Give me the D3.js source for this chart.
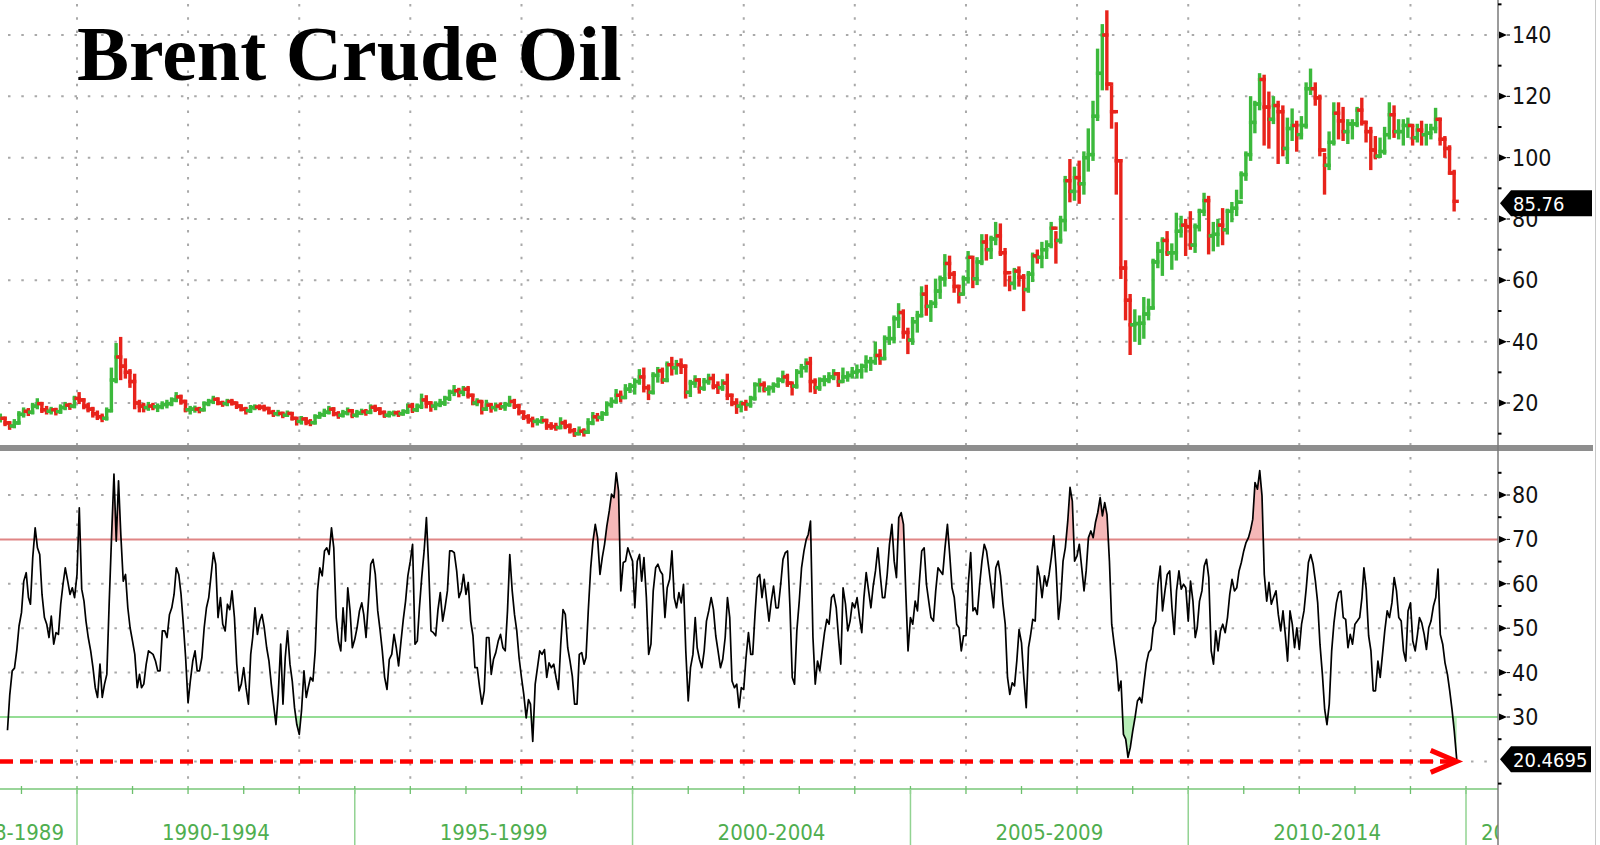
<!DOCTYPE html>
<html><head><meta charset="utf-8">
<script src="https://cdn.jsdelivr.net/npm/d3@7"></script>
<style>html,body{margin:0;padding:0;background:#fff;overflow:hidden}svg{display:block}</style>
</head><body><svg id="c" width="1600" height="845"></svg>
<script>
// ---------------- DATA ----------------
const chartTitle = "Brent Crude Oil";
// Monthly Brent bars, Aug 1988 .. Oct 2014
const priceStart = {year: 1988, month: 7};
const priceClose = [
15.0,13.5,12.5,13.5,16.3,
17.3,17.0,19.0,19.8,17.8,17.3,17.8,17.2,18.5,19.3,19.0,21.5,
21.0,19.0,18.0,16.5,15.5,15.0,17.5,27.5,35.0,32.0,30.0,27.0,
20.0,19.0,18.5,19.0,18.8,18.8,19.5,19.8,21.0,22.0,20.5,17.8,
18.0,18.0,17.8,19.8,20.5,21.2,20.0,19.8,20.5,20.0,19.0,18.0,
17.5,18.5,18.7,18.6,18.2,17.0,16.5,16.6,16.0,16.6,15.0,14.0,
14.8,13.8,13.6,15.5,16.2,17.0,18.0,16.5,16.0,16.8,17.5,16.0,
16.7,17.2,17.0,18.6,18.0,16.9,16.0,16.6,16.8,16.5,17.2,19.0,
17.8,18.9,21.0,20.0,19.0,19.5,20.0,21.5,23.5,24.0,23.5,24.5,
22.5,20.0,20.5,18.0,19.3,18.5,19.0,18.8,19.5,20.5,19.0,17.0,
15.5,14.5,14.0,14.0,14.3,12.5,12.3,12.0,13.5,12.5,11.0,10.0,
10.8,10.5,13.5,15.5,15.3,16.5,19.5,20.5,22.5,21.8,24.5,25.5,
27.0,28.5,25.0,23.5,29.0,30.5,27.5,32.5,31.5,32.5,32.0,23.5,
26.5,27.5,24.8,27.0,28.0,25.5,25.0,26.5,22.5,20.0,19.0,19.8,
19.5,21.5,26.0,26.0,24.5,25.0,25.8,27.5,28.5,26.5,25.5,30.0,
31.5,33.0,27.0,25.0,27.5,27.5,28.5,29.5,27.0,28.5,29.0,30.0,
30.5,32.0,33.5,33.5,35.5,34.5,41.0,41.0,47.5,49.5,43.0,40.5,
46.5,48.5,55.5,51.5,52.5,56.5,60.5,65.5,62.0,58.0,55.5,60.5,
67.5,60.5,66.0,72.5,70.0,73.5,74.5,69.0,62.5,59.0,63.0,61.0,
57.0,62.0,68.0,67.5,70.0,71.5,77.0,73.0,79.5,92.5,89.0,93.5,
91.5,100.0,101.0,113.5,127.5,140.0,124.0,115.0,99.0,64.0,53.5,45.5,
45.9,46.0,49.0,51.0,66.0,69.5,73.0,69.0,69.0,76.0,78.0,77.5,
71.5,77.5,82.5,86.0,74.5,75.0,78.0,76.5,82.5,83.5,85.5,94.5,
101.0,111.5,117.5,125.5,116.5,112.5,117.0,115.0,103.0,109.5,110.5,107.5,
110.5,122.5,122.5,119.5,102.5,97.5,105.0,114.5,112.0,108.5,111.0,111.0,
115.5,111.5,108.5,102.5,100.5,102.0,107.5,114.0,108.5,108.5,110.5,110.5,
106.5,109.0,107.5,108.0,109.5,112.5,106.0,103.0,95.0,85.76
];
const priceHigh = [
16.0,15.0,13.5,14.2,16.8,
18.0,17.8,19.5,21.0,19.8,18.5,18.2,17.9,19.0,19.8,19.5,21.8,
23.0,21.0,19.5,18.2,17.0,16.0,18.0,31.0,39.0,41.0,34.0,30.5,
29.0,20.5,19.5,19.8,19.5,19.3,20.0,20.5,21.3,23.0,22.2,20.5,
18.5,18.6,18.2,20.0,20.8,21.8,21.3,20.2,20.8,20.8,19.8,19.0,
18.2,18.8,19.0,19.0,18.9,18.2,17.2,17.2,16.6,17.0,16.5,14.8,
15.2,14.8,14.2,15.8,16.6,17.6,18.5,18.1,16.8,17.2,18.0,17.3,
17.2,17.6,17.5,19.0,18.9,18.1,17.0,16.9,17.0,17.0,17.4,19.3,
19.5,19.3,22.5,22.0,20.0,20.0,20.8,21.8,23.8,25.3,24.4,25.0,
25.0,22.5,21.0,20.0,20.5,19.5,19.6,19.6,19.8,21.8,20.8,19.2,
17.0,15.8,15.0,14.5,15.2,14.3,13.2,13.0,14.8,14.0,12.8,11.3,
11.8,11.2,14.5,16.5,16.2,16.8,20.0,21.3,24.0,23.5,25.6,26.0,
27.5,30.5,31.0,25.5,29.5,31.2,31.0,33.0,34.5,33.5,34.0,32.0,
27.0,28.5,27.5,27.6,29.0,29.0,26.5,27.2,29.0,22.5,21.0,20.2,
20.5,21.8,26.2,27.5,26.5,25.2,26.2,27.8,30.0,29.0,26.0,30.5,
32.2,34.0,34.5,27.5,27.8,28.5,29.5,30.5,29.5,31.0,29.8,31.2,
32.0,32.3,35.0,34.5,39.5,37.0,41.5,44.5,48.0,52.0,50.0,44.0,
47.5,49.5,57.5,58.0,53.0,60.0,61.0,68.0,67.5,62.5,58.0,61.0,
69.0,66.5,67.0,74.5,74.5,74.0,78.5,78.0,70.0,61.0,63.5,64.0,
61.5,62.5,68.5,69.5,72.0,72.5,78.5,75.5,80.5,93.5,99.0,96.5,
98.5,101.5,109.0,118.0,135.0,143.0,147.5,123.0,111.0,99.0,66.0,55.0,
50.0,48.0,54.0,53.5,66.5,72.0,73.5,75.5,71.5,81.5,80.5,79.5,
82.0,78.0,82.8,88.0,87.0,78.5,79.5,83.0,82.8,85.0,89.0,95.0,
101.5,119.5,118.0,127.0,126.5,121.0,119.5,118.0,116.5,112.5,115.5,111.5,
113.0,124.0,128.5,124.0,120.0,101.0,108.0,117.5,117.5,116.0,112.0,112.0,
116.0,119.0,111.5,109.5,106.5,106.0,109.5,117.5,116.5,112.0,112.0,112.5,
110.0,110.5,111.5,110.5,110.5,115.7,112.5,106.5,103.5,95.5
];
const priceLow = [
14.2,13.0,11.8,12.3,13.5,
15.8,16.3,16.8,18.5,17.3,16.8,16.8,16.5,17.0,18.2,18.3,18.8,
20.2,18.5,17.5,15.8,15.0,14.3,14.8,17.5,27.0,28.0,28.5,25.5,
18.5,17.5,17.5,18.0,18.2,17.6,18.5,18.8,19.5,20.8,20.0,17.5,
16.8,17.4,17.2,17.8,19.5,20.2,19.8,19.3,19.5,19.7,18.6,17.8,
16.8,17.3,18.2,18.2,17.8,16.8,16.0,16.2,15.6,16.0,14.8,13.2,
13.5,13.3,13.0,13.5,15.4,16.0,16.8,16.2,15.4,15.8,16.5,15.6,
15.8,16.6,16.4,16.9,17.6,16.6,15.7,15.8,16.2,16.0,16.4,17.0,
17.3,17.6,18.6,18.8,17.7,18.2,19.2,19.6,21.2,22.8,22.4,22.8,
22.0,19.8,19.5,16.8,18.0,17.4,17.8,18.3,18.0,19.3,18.6,16.5,
15.0,13.8,12.6,13.2,13.8,11.8,11.8,11.5,12.0,12.0,10.6,9.5,
10.0,9.6,10.5,13.3,14.5,14.7,16.4,19.0,20.3,20.8,21.8,23.8,
23.3,26.5,24.0,21.5,23.3,27.2,26.8,27.3,29.5,29.8,30.0,22.0,
22.5,25.5,23.6,24.5,26.5,25.0,23.5,24.5,21.5,19.5,17.0,17.5,
18.0,19.0,21.3,24.0,24.0,23.0,23.9,25.5,27.0,25.8,23.0,25.2,
28.8,30.5,24.0,23.5,24.5,26.0,27.0,28.0,25.8,27.5,27.5,28.5,
28.5,28.5,30.5,31.0,33.0,33.0,34.5,39.5,40.0,45.0,41.5,36.5,
39.5,43.5,48.5,49.0,47.0,51.5,54.5,58.5,61.0,56.5,53.0,56.0,
59.5,58.0,59.0,65.5,67.0,67.5,72.0,68.5,58.5,57.0,57.5,58.5,
50.5,56.5,60.0,66.0,64.5,67.5,71.0,66.0,72.5,76.5,86.0,86.5,
85.5,88.5,96.0,99.5,112.5,122.5,122.5,110.0,88.5,61.0,47.5,36.2,
40.5,39.5,41.5,47.5,51.0,64.5,62.0,68.5,64.0,67.0,74.5,68.5,
70.5,69.5,76.5,81.5,69.0,70.0,71.5,72.0,75.5,79.5,81.5,87.0,
93.0,99.5,108.5,116.0,104.5,103.5,111.5,98.5,101.0,98.5,106.0,102.5,
106.5,110.0,121.0,117.5,101.0,88.5,96.5,104.5,106.5,106.0,105.0,106.5,
110.5,111.0,105.5,96.5,100.0,100.5,101.5,106.5,107.0,106.5,104.5,107.0,
104.5,105.5,104.5,104.5,106.5,108.5,104.5,100.5,95.0,83.0
];
// RSI, two readings per month (1st and 16th), Oct 1988 .. end Oct 2014
const rsiStart = {year: 1988, month: 9};
const rsiValues = [
27,35,40.4,41,45,50.5,53.5,60.6,62.5,56.9,
55.4,65.9,72.6,68.1,66.6,57.6,52.4,50.9,47.9,52.7,
46.4,49,48.6,55.4,59.9,63.6,60.6,57.6,59.1,56.9,
62.1,77.1,58.8,56.1,51.6,47.9,44.9,41.1,36.6,34.4,
41.9,34.4,37.4,39.6,56.1,70.4,84.7,69.6,83.2,71.1,
60.6,62.1,54.6,50.1,47.1,44.1,36.6,39.6,36.6,37.4,
41.9,44.9,44.5,44.1,42.6,40.4,40.4,49.4,49.4,47.9,
53.1,54.6,57.6,63.6,62.1,57.6,50.9,43.4,33.2,38.1,
42.6,44.9,40.4,40.4,43.4,50.1,54.6,56.9,62.1,67,
64.4,52.4,56.9,50.9,49.4,55.4,54.2,58.4,52.4,41.9,
35.9,37.4,41.1,36.6,32.9,44.1,47.9,54.6,48.6,51.6,
53.1,50.1,45.6,42.6,37.4,32.9,28.3,35.1,46.4,32.9,
43.4,49.4,41.9,38.1,32.1,28.3,26.1,31.4,40.4,34.4,
36.6,38.9,38.1,44.9,58.4,63.6,61.8,67.4,68.1,66.6,
72.6,68.1,52.4,47.1,44.9,54.6,47.1,59.1,53.9,45.6,
47.5,50.1,53.9,55.7,53.1,47.9,56.1,64.4,65.5,62.1,
53.9,
49.7,44.9,39,36.2,43,44.1,48.6,45.6,41.5,47.1,
52,56.1,61.8,65.1,68.9,46.4,47.1,54.6,61.4,67.4,
74.9,63.6,49.4,49,48.3,54.2,58,51.6,54.6,58.4,
67.4,67.4,67,62.9,56.9,58.4,62.1,57.6,60.3,51.6,
48.3,41.1,41.1,36.6,32.9,35.9,47.9,47.9,39.6,43,
44.5,47.1,48.6,45.6,44.9,53.9,66.6,58.4,53.1,49.4,
43.4,38.9,35.1,29.8,33.9,32.9,24.5,37.4,41.1,44.9,
44.1,45.2,38.9,42.2,41.1,41.9,38.9,36.2,46.4,54.2,
53.1,45.6,42.6,39.2,32.9,32.9,44.1,44.5,41.9,43.4,
53.9,63.6,69.6,73.4,70.4,62.1,65.9,68.9,73,76.4,
80.2,79.4,85,80.9,58.4,64.8,65.1,68.1,66.6,65.1,
54.6,65.1,66.6,60.6,65.9,56.9,44.1,46.4,58.4,63.6,
64.4,62.9,62.1,52.4,59.1,61,67.4,56.9,54.6,58,
55.7,59.9,44.9,33.6,41.1,44.1,52.4,45.6,43,41.1,
44.9,51.6,53.9,56.9,54.2,48.3,44.9,41.1,43,47.9,
56.9,52.4,38.1,36.6,37.4,32.1,36.6,36.2,43.4,49,
44.1,44.1,53.1,61.4,62.1,56.9,61,56.1,51.6,56.1,
59.5,54.6,54.6,59.9,65.5,67,67.4,54.6,38.9,37.4,
49.4,56.1,63.6,67.4,70,71.1,74.1,47.9,37.4,42.6,
40.4,44.9,49,52,50.9,56.9,57.6,54.6,47.9,41.9,
59.1,55.4,49.4,51.6,55.7,54.6,56.9,52.4,49,56.9,
62.5,58.4,54.6,59.5,62.9,68.1,62.1,56.9,56.9,62.1,
68.9,73.4,65.1,61.4,74.9,76,73.4,58.4,44.9,52.4,
50.9,56.1,53.9,60.6,67.4,68.1,59.9,56.1,52.4,51.6,
58.4,63.6,62.9,62.1,68.1,73.4,66.6,59.1,56.9,50.9,
50.1,44.9,48.3,48.3,59.9,67,53.9,54.6,53.1,59.9,
65.1,68.9,67.4,63.3,59.1,54.6,63.6,65.1,61.8,55.4,
50.9,38.9,35.1,37.7,37,42.6,49.7,46.7,38.9,32.1,
45.6,48.3,52,51.6,64,61.4,56.9,61.8,59.5,62.1,
65.9,70.8,63.6,52,56.5,65.1,68.1,74.1,81.7,78.6,
65.1,66.3,68.9,63.6,58.4,62.9,70.4,71.9,70.4,73.8,
76,79.4,75.3,78.3,75.6,65.1,50.9,46.4,42.6,35.9,
38.1,26.1,25,20.9,23.1,26.8,29.8,33.6,34.4,33.2,
37.7,42.2,44.5,45.2,50.1,51.6,59.9,64,53.9,58.4,
62.1,62.9,54.6,48.6,58.4,62.9,58.8,59.9,59.1,51.6,
60.6,56.1,47.9,50.1,56.1,58.4,64,65.5,61.4,44.9,
41.9,49.4,44.9,49.4,50.9,49,52.4,57.6,61,58.4,
59.1,62.9,64.8,67.4,69.3,70.4,72.3,74.5,82.8,81.3,
85.5,79.8,62.1,56.1,60.3,55.4,56.9,58.4,53.1,49.4,
53.9,48.6,42.6,53.9,50.9,45.6,50.1,45.2,50.9,53.9,
59.1,64.8,66.6,64.4,60.6,55.7,46.4,39.6,31.7,28.3,
32.9,44.9,51.2,55.7,58,58.4,52.4,52,45.6,48.6,
46.4,50.9,51.6,52.4,56.9,63.6,58.8,48.3,44.9,35.9,
35.9,42.6,38.9,44.1,49.4,53.9,52.4,55.7,61.4,58.4,
52.4,51.6,44.9,42.6,53.9,55.7,47.1,44.9,48.6,52.4,
51.2,48.6,45.2,50.1,51.6,55,56.9,63.3,48.6,46.4,
42.2,39.6,35.9,31.7,26.8,20.4695
];
const lastPriceLabel = "85.76";
const lastRsiLabel = "20.4695";
const priceTicks = [20, 40, 60, 80, 100, 120, 140];
const priceMinorTicks = [10, 30, 50, 70, 90, 110, 130, 150];
const rsiTicks = [30, 40, 50, 60, 70, 80];
const rsiMinorTicks = [15, 25, 35, 45, 55, 65, 75, 85];
const rsiGridLevels = [20, 40, 50, 60, 80];
const rsiOverbought = 70, rsiOversold = 30;
const rsiLowMark = 20;
const periodLabels = ["1988-1989", "1990-1994", "1995-1999", "2000-2004", "2005-2009", "2010-2014", "2015-2019"];
const periodStarts = [1985, 1990, 1995, 2000, 2005, 2010, 2015];

// ---------------- LAYOUT ----------------
const svg = d3.select("#c");
const axisX = 1498;
const topY0 = 0, topY1 = 445, sepY1 = 451, botY1 = 789;
const x = d3.scaleTime().domain([new Date(1990, 0, 1), new Date(2015, 0, 1)]).range([77, 1466]);
const yP = d3.scaleLinear().domain([20, 140]).range([403, 35]);
const yR = d3.scaleLinear().domain([30, 80]).range([717, 495]);
const narrow = "'Liberation Sans Narrow','DejaVu Sans Condensed','Arial Narrow',sans-serif";
const GREEN = "#3cb93c", RED = "#e8231b", GRID = "#a9a9a9";

const defs = svg.append("defs");
defs.append("clipPath").attr("id", "cpTop").append("rect").attr("x", 0).attr("y", topY0).attr("width", axisX).attr("height", topY1 - topY0);
defs.append("clipPath").attr("id", "cpBot").append("rect").attr("x", 0).attr("y", sepY1).attr("width", axisX).attr("height", botY1 - sepY1);
defs.append("clipPath").attr("id", "cpOB").append("rect").attr("x", 0).attr("y", sepY1).attr("width", axisX).attr("height", yR(rsiOverbought) - sepY1);
defs.append("clipPath").attr("id", "cpOS").append("rect").attr("x", 0).attr("y", yR(rsiOversold)).attr("width", axisX).attr("height", botY1 - yR(rsiOversold));
defs.append("clipPath").attr("id", "cpX").append("rect").attr("x", 0).attr("y", botY1).attr("width", axisX).attr("height", 845 - botY1);

svg.append("rect").attr("width", 1600).attr("height", 845).attr("fill", "#fff");

// grid
const gridYears = d3.range(1990, 2015, 2).map(y => new Date(y, 0, 1));
const g = svg.append("g").attr("stroke", GRID).attr("stroke-width", 2).attr("stroke-dasharray", "2.5,10.8");
gridYears.forEach(d => {
  g.append("line").attr("x1", x(d)).attr("x2", x(d)).attr("y1", 4).attr("y2", topY1);
  g.append("line").attr("x1", x(d)).attr("x2", x(d)).attr("y1", sepY1 + 6).attr("y2", botY1);
});
priceTicks.forEach(v => g.append("line").attr("x1", 8).attr("x2", axisX).attr("y1", yP(v)).attr("y2", yP(v)));
rsiGridLevels.forEach(v => g.append("line").attr("x1", 8).attr("x2", axisX).attr("y1", yR(v)).attr("y2", yR(v)));

// price bars
const bars = priceClose.map((c, i) => ({
  date: new Date(priceStart.year, priceStart.month + i, 15),
  o: i ? priceClose[i - 1] : c, h: priceHigh[i], l: priceLow[i], c
}));
const pg = svg.append("g").attr("clip-path", "url(#cpTop)").attr("stroke-width", 3.4).attr("stroke-linecap", "square");
bars.forEach(b => {
  const col = b.c >= b.o ? GREEN : RED;
  const cx = x(b.date);
  pg.append("line").attr("x1", cx).attr("x2", cx).attr("y1", yP(b.h)).attr("y2", yP(b.l)).attr("stroke", col);
  pg.append("line").attr("x1", cx - 3).attr("x2", cx).attr("y1", yP(b.o)).attr("y2", yP(b.o)).attr("stroke", col);
  pg.append("line").attr("x1", cx).attr("x2", cx + 3).attr("y1", yP(b.c)).attr("y2", yP(b.c)).attr("stroke", col);
});

// RSI
const rsi = rsiValues.map((v, i) => ({date: new Date(rsiStart.year, rsiStart.month + Math.floor(i / 2), i % 2 ? 16 : 1), v}));
const obArea = d3.area().x(d => x(d.date)).y0(yR(rsiOverbought)).y1(d => yR(d.v));
svg.append("path").datum(rsi).attr("clip-path", "url(#cpOB)").attr("d", obArea).attr("fill", "#f5b8b8");
svg.append("path").datum(rsi).attr("clip-path", "url(#cpOS)").attr("d", obArea.y0(yR(rsiOversold))).attr("fill", "#b8eeb8");
svg.append("line").attr("x1", 0).attr("x2", axisX).attr("y1", yR(rsiOverbought)).attr("y2", yR(rsiOverbought)).attr("stroke", "#e08585").attr("stroke-width", 2);
svg.append("line").attr("x1", 0).attr("x2", axisX).attr("y1", yR(rsiOversold)).attr("y2", yR(rsiOversold)).attr("stroke", "#95dd95").attr("stroke-width", 2);
svg.append("path").datum(rsi).attr("clip-path", "url(#cpBot)")
  .attr("d", d3.line().x(d => x(d.date)).y(d => yR(d.v)))
  .attr("fill", "none").attr("stroke", "#000").attr("stroke-width", 1.7).attr("stroke-linejoin", "round");

// red dashed arrow at the low mark
const lastR = rsi[rsi.length - 1];
const ax = x(lastR.date), ay = yR(rsiLowMark);
svg.append("line").attr("x1", 0).attr("x2", ax - 3).attr("y1", ay).attr("y2", ay)
  .attr("stroke", "#ff0000").attr("stroke-width", 4.5).attr("stroke-dasharray", "13,7");
svg.append("path").attr("d", `M${ax - 26},${ay - 11}L${ax},${ay}L${ax - 26},${ay + 11}`)
  .attr("fill", "none").attr("stroke", "#ff0000").attr("stroke-width", 5);

// separator
svg.append("rect").attr("x", 0).attr("y", topY1).attr("width", 1593).attr("height", sepY1 - topY1).attr("fill", "#8e8e8e");

// x axis
const xg = svg.append("g");
xg.append("line").attr("x1", 0).attr("x2", axisX).attr("y1", botY1).attr("y2", botY1).attr("stroke", "#79c779").attr("stroke-width", 1.6);
d3.range(1989, 2016).forEach(yr => {
  const px = x(new Date(yr, 0, 1));
  if (px < axisX) xg.append("line").attr("x1", px).attr("x2", px).attr("y1", botY1 - 3).attr("y2", botY1 + 5).attr("stroke", "#6cbf6c").attr("stroke-width", 1.3);
});
periodStarts.slice(1).forEach(yr => {
  const px = x(new Date(yr, 0, 1));
  xg.append("line").attr("x1", px).attr("x2", px).attr("y1", botY1).attr("y2", 845).attr("stroke", "#92d392").attr("stroke-width", 1.5);
});
const lg = xg.append("g").attr("clip-path", "url(#cpX)").attr("font-family", narrow).attr("font-size", 22).attr("fill", "#4fae4f");
periodLabels.forEach((t, i) => {
  const a = x(new Date(periodStarts[i], 0, 1)), b = x(new Date(periodStarts[i] + 5, 0, 1));
  let tx = (a + b) / 2, anchor = "middle";
  if (i === 0) { tx = b - 13; anchor = "end"; }
  if (i === periodLabels.length - 1) { tx = a + 15; anchor = "start"; }
  lg.append("text").attr("x", tx).attr("y", 840).attr("text-anchor", anchor).text(t);
});

// right axis
svg.append("line").attr("x1", axisX).attr("x2", axisX).attr("y1", 0).attr("y2", 845).attr("stroke", "#7a7a7a").attr("stroke-width", 1.5);
svg.append("line").attr("x1", 1595.5).attr("x2", 1595.5).attr("y1", 0).attr("y2", 845).attr("stroke", "#c8c8c8").attr("stroke-width", 1);
function majorTick(y, label) {
  svg.append("path").attr("d", `M${axisX + 1},${y - 3.5}L${axisX + 9},${y}L${axisX + 1},${y + 3.5}Z`).attr("fill", "#000");
  svg.append("line").attr("x1", axisX + 9).attr("x2", axisX + 12).attr("y1", y).attr("y2", y).attr("stroke", "#000").attr("stroke-width", 1);
  svg.append("text").attr("x", axisX + 14).attr("y", y).attr("dy", "0.35em").attr("font-family", narrow).attr("font-size", 23).attr("fill", "#111").text(label);
}
function minorTick(y) { svg.append("rect").attr("x", axisX).attr("y", y - 1).attr("width", 3.5).attr("height", 2).attr("fill", "#000"); }
priceTicks.forEach(v => majorTick(yP(v), v));
priceMinorTicks.forEach(v => { const y = yP(v); if (y > 2 && y < topY1 - 2) minorTick(y); });
rsiTicks.forEach(v => majorTick(yR(v), v));
rsiMinorTicks.forEach(v => { const y = yR(v); if (y > sepY1 + 2 && y < botY1 - 2) minorTick(y); });

// value boxes
function valueBox(y, label, w) {
  svg.append("path").attr("d", `M${axisX + 2},${y}L${axisX + 13},${y - 13}L${axisX + w},${y - 13}L${axisX + w},${y + 13}L${axisX + 13},${y + 13}Z`).attr("fill", "#000");
  svg.append("text").attr("x", axisX + 15).attr("y", y).attr("dy", "0.36em").attr("font-family", narrow).attr("font-size", 20).attr("fill", "#fff").text(label);
}
valueBox(yP(priceClose[priceClose.length - 1]) + 2, lastPriceLabel, 94);
valueBox(yR(rsiValues[rsiValues.length - 1]), lastRsiLabel, 93);

// title
svg.append("text").attr("x", 77).attr("y", 80).attr("font-family", "'Liberation Serif','Times New Roman',serif")
  .attr("font-weight", "bold").attr("font-size", 78).attr("fill", "#000").text(chartTitle);
</script></body></html>
